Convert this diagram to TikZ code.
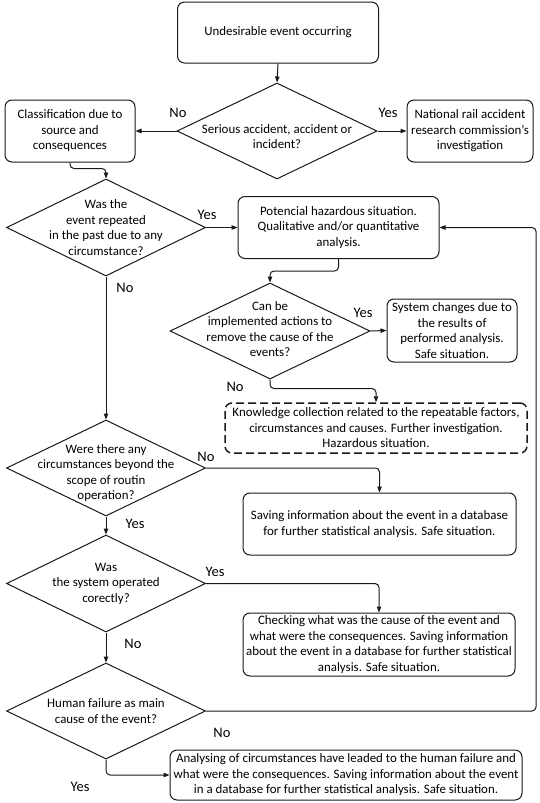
\documentclass[tikz,border=0pt]{standalone}
\usepackage{fontspec}
\setmainfont{Carlito}
\usetikzlibrary{shapes.geometric,arrows.meta}
\begin{document}
\begin{tikzpicture}[x=1pt,y=-1pt,
  line width=1pt,
  every node/.style={font=\fontsize{12.9}{15.5}\selectfont},
  box/.style={draw=black!90, rounded corners=7pt, inner sep=0pt, align=center},
  dbox/.style={box, dash pattern=on 8pt off 4pt, line width=1.5pt},
  dia/.style={draw=black!90, diamond, inner sep=0pt},
  dtext/.style={align=center, inner sep=0pt},
  lbl/.style={font=\fontsize{14.5}{17}\selectfont, inner sep=0pt},
  arr/.style={draw=black!90, rounded corners=4pt, -{Triangle[length=6pt,width=4.5pt]}},
]
\useasboundingbox (0,0) rectangle (540,803);

% boxes
\node[box, minimum width=201pt, minimum height=61pt] (top) at (278,32.5) {Undesirable event occurring};
\node[box, minimum width=130pt, minimum height=62pt] (class) at (70,131) {Classification due to\\source and\\consequences};
\node[box, minimum width=126pt, minimum height=62pt] (nat) at (470,131) {National rail accident\\research commission’s\\investigation};
\node[box, minimum width=201pt, minimum height=62pt] (pot) at (338.5,227.5) {Potencial hazardous situation.\\Qualitative and/or quantitative\\analysis.};
\node[box, minimum width=130pt, minimum height=63pt] (sys) at (452,330.5) {System changes due to\\the results of\\performed analysis.\\Safe situation.};
\node[dbox, minimum width=302pt, minimum height=50pt] (know) at (376,428) {Knowledge collection related to the repeatable factors,\\circumstances and causes. Further investigation.\\Hazardous situation.};
\node[box, minimum width=273pt, minimum height=62pt] (sav) at (379.5,524) {Saving information about the event in a database\\for further statistical analysis. Safe situation.};
\node[box, minimum width=272pt, minimum height=63pt] (chk) at (379,644.5) {Checking what was the cause of the event and\\what were the consequences. Saving information\\about the event in a database for further statistical\\analysis. Safe situation.};
\node[box, minimum width=352pt, minimum height=50pt] (ana) at (346,775) {Analysing of circumstances have leaded to the human failure and\\what were the consequences. Saving information about the event\\in a database for further statistical analysis. Safe situation.};

% diamonds
\node[dia, minimum width=200pt, minimum height=96pt] (d1) at (277,131) {};
\node[dtext] (d1t) at (277,136.5) {Serious accident, accident or\\incident?};
\node[dia, minimum width=199pt, minimum height=97pt] (d2) at (106,227.5) {};
\node[dtext] (d2t) at (d2.center) {Was the\\event repeated\\in the past due to any\\circumstance?};
\node[dia, minimum width=200pt, minimum height=96pt] (d3) at (270,331) {};
\node[dtext] (d3t) at (270,329) {Can be\\implemented actions to\\remove the cause of the\\events?};
\node[dia, minimum width=199pt, minimum height=96pt] (d4) at (106,468) {};
\node[dtext] (d4t) at (106,473) {Were there any\\circumstances beyond the\\scope of routin\\operation?};
\node[dia, minimum width=199pt, minimum height=97pt] (d5) at (106,583.5) {};
\node[dtext] (d5t) at (d5.center) {Was\\the system operated\\corectly?};
\node[dia, minimum width=199pt, minimum height=96pt] (d6) at (106,711) {};
\node[dtext] (d6t) at (d6.center) {Human failure as main\\cause of the event?};

\coordinate (rt) at (536,227.5);

% connectors
\draw[arr] (top.south) -- (d1.north);
\draw[arr] (d1.west) -- (class.east);
\draw[arr] (d1.east) -- (nat.west);
\draw[arr] (class.south) -- ++(0,6) -| (d2.north);
\draw[arr] (d2.east) -- (pot.west);
\draw[arr] (pot.south) -- ++(0,12) -| (d3.north);
\draw[arr] (d3.east) -- (sys.west);
\draw[arr] (d3.south) -- ++(0,9) -| (know.north);
\draw[arr] (d2.south) -- (d4.north);
\draw[arr] (d4.east) -| (sav.north);
\draw[arr] (d4.south) -- (d5.north);
\draw[arr] (d5.east) -| (chk.north);
\draw[arr] (d5.south) -- (d6.north);
\draw[arr] (d6.east) -| (rt) -- (pot.east);
\draw[arr] (d6.south) |- (ana.west);

% labels
\node[lbl] (l1) at (178,113) {No};
\node[lbl] (l2) at (388,113) {Yes};
\node[lbl] (l3) at (207,215) {Yes};
\node[lbl] (l4) at (125,288) {No};
\node[lbl] (l5) at (363,313) {Yes};
\node[lbl] (l6) at (235,387) {No};
\node[lbl] (l7) at (206,457) {No};
\node[lbl] (l8) at (135,524) {Yes};
\node[lbl] (l9) at (215,572) {Yes};
\node[lbl] (l10) at (133,644) {No};
\node[lbl] (l11) at (222,733) {No};
\node[lbl] (l12) at (80,787) {Yes};
\end{tikzpicture}
\end{document}
